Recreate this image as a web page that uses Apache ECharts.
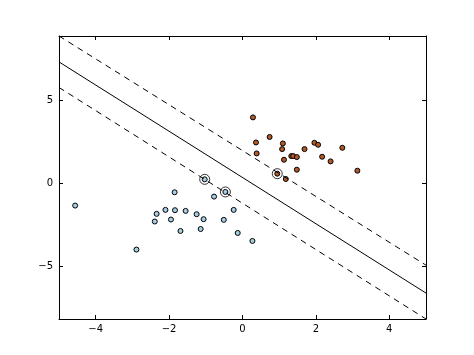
<!DOCTYPE html>
<html>
<head>
<meta charset="utf-8">
<script src="https://cdn.jsdelivr.net/npm/echarts@6/dist/echarts.min.js"></script>
<style>
  html, body { margin: 0; padding: 0; background: #fff; }
  #chart { width: 474px; height: 355px; }
</style>
</head>
<body>
<div id="chart"></div>
<script>
// class 0 (light blue) and class 1 (brown) points
var class0 = [
  [-4.56, -1.34], [-2.89, -3.99], [-2.39, -2.30], [-2.34, -1.84], [-2.10, -1.60],
  [-1.95, -2.18], [-1.85, -0.54], [-1.84, -1.62], [-1.69, -2.87], [-1.55, -1.66],
  [-1.25, -1.86], [-1.06, -2.16], [-1.14, -2.75], [-1.03, 0.24], [-0.775, -0.80],
  [-0.467, -0.52], [-0.51, -2.20], [-0.24, -1.60], [-0.13, -2.99], [0.27, -3.47]
];
var class1 = [
  [0.285, 3.97], [0.367, 2.46], [0.739, 2.79], [0.385, 1.80], [1.10, 2.40],
  [1.08, 2.06], [1.13, 1.42], [1.33, 1.64], [1.38, 1.64], [1.48, 1.58],
  [1.69, 2.06], [1.96, 2.44], [2.06, 2.32], [2.17, 1.60], [2.40, 1.32],
  [2.72, 2.14], [3.13, 0.76], [1.48, 0.82], [0.947, 0.58], [1.18, 0.26]
];
var supportVectors = [[-1.03, 0.24], [-0.467, -0.52], [0.947, 0.58]];

// hyperplane and margins, end points at x = -5 and x = 5
var lineX = [-5, 5];
var solidY = [7.31, -6.61];
var upperY = [8.87, -4.93];
var lowerY = [5.77, -8.17];

var xTicks = [-4, -2, 0, 2, 4];
var yTicks = [-5, 0, 5];

function pairs(xs, ys) {
  return xs.map(function (x, i) { return [x, ys[i]]; });
}
function fmt(v) {
  return v < 0 ? '\u2212' + Math.abs(v) : String(v);
}

var chart = echarts.init(document.getElementById('chart'));

var axisBase = {
  type: 'value',
  axisLine: { show: true, onZero: false, lineStyle: { color: '#000', width: 1 } },
  axisTick: { show: true, inside: true, length: 4, lineStyle: { color: '#000' } },
  splitLine: { show: false }
};

var option = {
  animation: false,
  backgroundColor: '#fff',
  grid: { left: 59, right: 48, top: 36, bottom: 36 },
  xAxis: [
    Object.assign({}, axisBase, {
      min: -5, max: 5, position: 'bottom',
      axisTick: Object.assign({}, axisBase.axisTick, { customValues: xTicks }),
      axisLabel: { customValues: xTicks, formatter: fmt, color: '#000', fontSize: 10,
        fontFamily: 'DejaVu Sans', margin: 5 }
    }),
    Object.assign({}, axisBase, {
      min: -5, max: 5, position: 'top',
      axisTick: Object.assign({}, axisBase.axisTick, { customValues: xTicks }),
      axisLabel: { show: false }
    })
  ],
  yAxis: [
    Object.assign({}, axisBase, {
      min: -8.17, max: 8.87, position: 'left',
      axisTick: Object.assign({}, axisBase.axisTick, { customValues: yTicks }),
      axisLabel: { customValues: yTicks, formatter: fmt, color: '#000', fontSize: 10,
        fontFamily: 'DejaVu Sans', margin: 6 }
    }),
    Object.assign({}, axisBase, {
      min: -8.17, max: 8.87, position: 'right',
      axisTick: Object.assign({}, axisBase.axisTick, { customValues: yTicks }),
      axisLabel: { show: false }
    })
  ],
  series: [
    {
      type: 'line', data: pairs(lineX, solidY), symbol: 'none',
      lineStyle: { color: '#000', width: 1 }
    },
    {
      type: 'line', data: pairs(lineX, upperY), symbol: 'none',
      lineStyle: { color: '#000', width: 1, type: [6, 5] }
    },
    {
      type: 'line', data: pairs(lineX, lowerY), symbol: 'none',
      lineStyle: { color: '#000', width: 1, type: [6, 5] }
    },
    {
      type: 'scatter', data: supportVectors, symbolSize: 10,
      itemStyle: { color: 'rgba(0,0,0,0)', borderColor: '#000', borderWidth: 1 }
    },
    {
      type: 'scatter', data: class0, symbolSize: 5,
      itemStyle: { color: '#a6cee3', borderColor: '#000', borderWidth: 1, opacity: 1 }
    },
    {
      type: 'scatter', data: class1, symbolSize: 5,
      itemStyle: { color: '#b15928', borderColor: '#000', borderWidth: 1, opacity: 1 }
    }
  ]
};

chart.setOption(option);
</script>
</body>
</html>
